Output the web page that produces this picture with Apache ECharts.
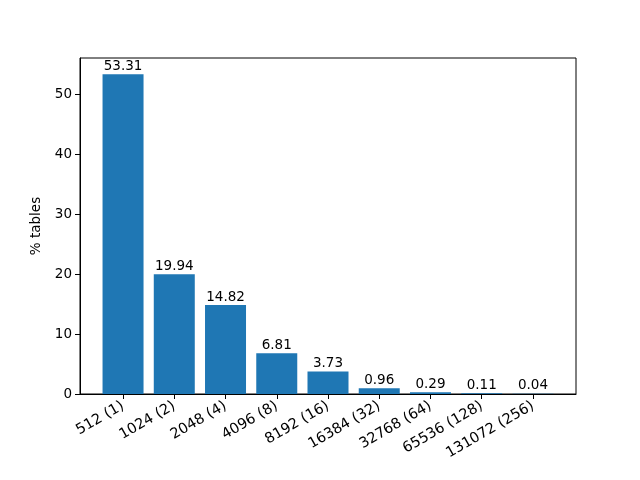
<!DOCTYPE html>
<html>
<head>
<meta charset="utf-8">
<script src="https://cdn.jsdelivr.net/npm/echarts@6/dist/echarts.min.js"></script>
<style>
  html, body { margin: 0; padding: 0; background: #fff; }
  #chart { width: 640px; height: 480px; }
</style>
</head>
<body>
<div id="chart"></div>
<script>
// table sizes (and their multiple of the smallest one)
const categories = ["512 (1)", "1024 (2)", "2048 (4)", "4096 (8)", "8192 (16)",
                    "16384 (32)", "32768 (64)", "65536 (128)", "131072 (256)"];
const percentTables = [53.31, 19.94, 14.82, 6.81, 3.73, 0.96, 0.29, 0.11, 0.04];

const font = "DejaVu Sans";
const positions = categories.map((c, i) => i);

const chart = echarts.init(document.getElementById("chart"));

chart.setOption({
  animation: false,
  grid: {
    left: 80, right: 64, top: 58, bottom: 86,
    show: true, borderColor: "#000", borderWidth: 1
  },
  xAxis: {
    type: "value",
    min: -0.84, max: 8.84,
    splitLine: { show: false },
    axisLine: { show: true, onZero: false, lineStyle: { color: "#000", width: 1 } },
    axisTick: {
      show: true, length: 5,
      lineStyle: { color: "#000", width: 1 },
      customValues: positions
    },
    axisLabel: {
      customValues: positions,
      rotate: 30,
      margin: 11,
      color: "#000",
      fontFamily: font,
      fontSize: 14.5,
      formatter: v => categories[Math.round(v)]
    }
  },
  yAxis: {
    type: "value",
    min: 0, max: 56, interval: 10,
    name: "% tables",
    nameLocation: "middle",
    nameGap: 30,
    nameRotate: 90,
    nameTextStyle: { color: "#000", fontFamily: font, fontSize: 13.5 },
    splitLine: { show: false },
    axisLine: { show: true, onZero: false, lineStyle: { color: "#000", width: 1 } },
    axisTick: {
      show: true, length: 5,
      lineStyle: { color: "#000", width: 1 }
    },
    axisLabel: {
      showMaxLabel: false,
      color: "#000",
      fontFamily: font,
      fontSize: 13.5,
      margin: 8
    }
  },
  series: [{
    type: "bar",
    data: percentTables.map((v, i) => [i, v]),
    barWidth: 41,
    itemStyle: { color: "#1f77b4" },
    label: {
      show: true,
      position: "top",
      distance: 1,
      color: "#000",
      fontFamily: font,
      fontSize: 13.5,
      formatter: p => p.value[1].toFixed(2)
    }
  }]
});
</script>
</body>
</html>
